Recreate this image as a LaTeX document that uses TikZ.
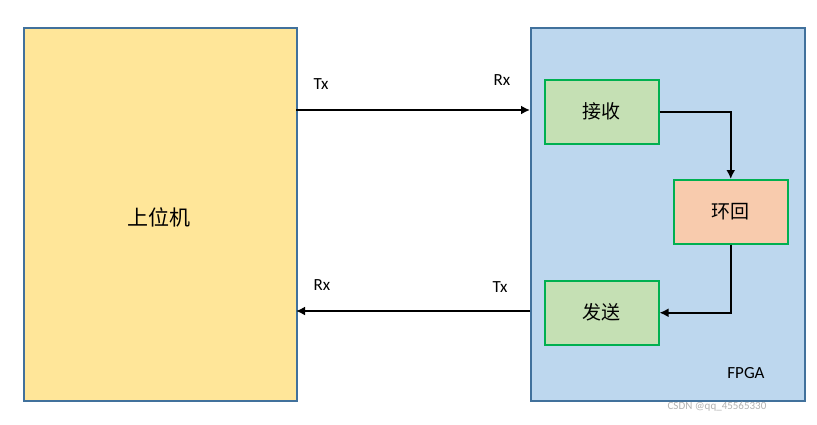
\documentclass[tikz,border=0pt]{standalone}
\usepackage{fontspec}
\setmainfont{Carlito}
\newfontfamily\cjk{Noto Sans CJK SC}
\usetikzlibrary{arrows.meta}
\definecolor{bord}{HTML}{41719C}
\definecolor{yel}{HTML}{FFE699}
\definecolor{blu}{HTML}{BDD7EE}
\definecolor{grn}{HTML}{C5E0B4}
\definecolor{pch}{HTML}{F8CBAD}
\definecolor{gb}{HTML}{00B050}
\begin{document}
\begin{tikzpicture}[x=1pt,y=-1pt,
  big/.style={draw=bord,line width=1.5pt,anchor=north west,inner sep=0},
  small/.style={draw=gb,line width=1.5pt,anchor=north west,inner sep=0,minimum width=114pt,minimum height=64pt,font=\cjk\fontsize{19}{19}\selectfont},
  lab/.style={font=\fontsize{17}{17}\selectfont},
  arr/.style={line width=2pt,-{Latex[length=9pt,width=9pt]}}]
\useasboundingbox (0,0) rectangle (817,424);
\node[big,fill=yel,minimum width=273pt,minimum height=373pt] (host) at (23,27) {};
\node[font=\cjk\fontsize{21}{21}\selectfont] at (159,217) {上位机};
\node[big,fill=blu,minimum width=274pt,minimum height=373pt] (fpga) at (530,27) {};
\node[small,fill=grn] (rx) at (544,79) {接收};
\node[small,fill=pch] (lp) at (673,179) {环回};
\node[small,fill=grn] (tx) at (544,280) {发送};
\node[lab] at (746,373) {FPGA};
\coordinate (a1) at (296,110); \coordinate (a2) at (530,110);
\coordinate (b1) at (530,311); \coordinate (b2) at (296,311);
\draw[arr] (a1) -- (a2);
\draw[arr] (b1) -- (b2);
\node[lab] at (321,84) {Tx};
\node[lab] at (502,80) {Rx};
\node[lab] at (322,285) {Rx};
\node[lab] at (500,287) {Tx};
\draw[arr] (rx.east) -| (lp.north);
\draw[arr] (lp.south) |- (tx.east);
\node[text=gray!60,font=\fontsize{11}{11}\selectfont] at (717,407) {CSDN @qq\_45565330};
\end{tikzpicture}
\end{document}
